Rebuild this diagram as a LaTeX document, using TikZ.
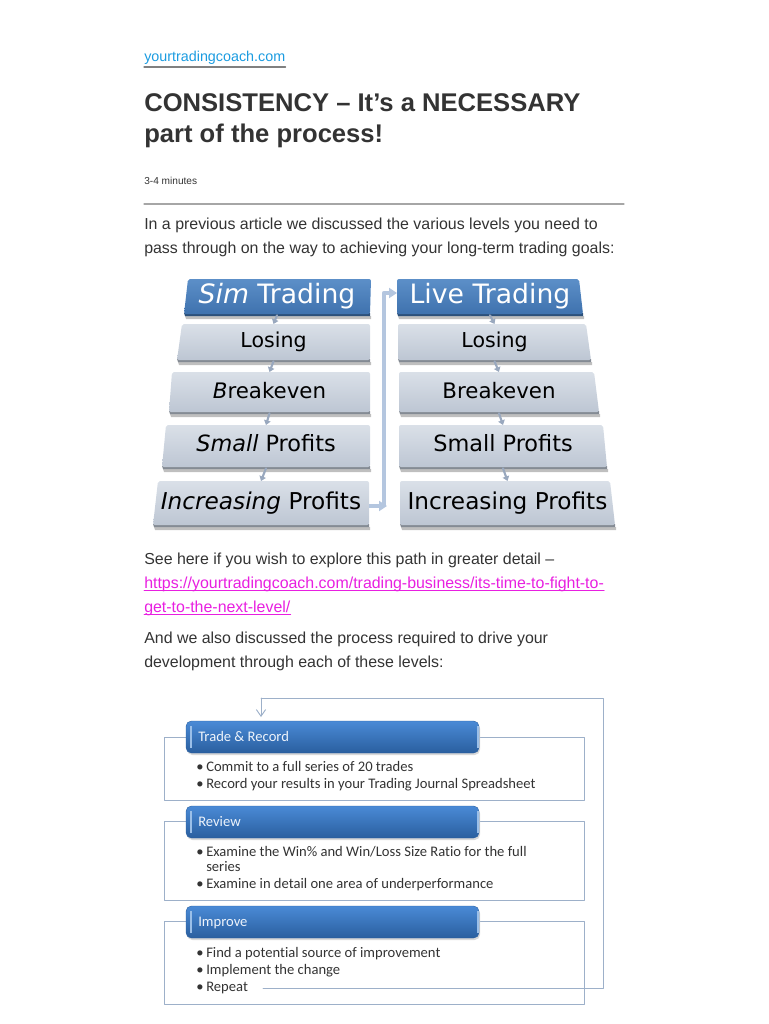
\documentclass[tikz,border=0pt]{standalone}
\usepackage{fontspec}
\setmainfont{Liberation Sans}
\newfontfamily\levelfont{DejaVu Sans}
\newfontfamily\stepfont[Ligatures=CommonOff]{Carlito}
\usetikzlibrary{arrows.meta}
\usetikzlibrary{positioning}
\definecolor{inkgray}{HTML}{333333}
\definecolor{sitelink}{HTML}{1A9BE0}
\definecolor{pagelink}{HTML}{E81FE0}
\definecolor{framegray}{HTML}{9DB0C9}
\definecolor{stepdark}{HTML}{2A5F9F}
\definecolor{stepmid}{HTML}{3C78C4}
\definecolor{steptop}{HTML}{4A8AD6}
\definecolor{simtop}{HTML}{5C8FC8}
\definecolor{simbot}{HTML}{3F72AE}
\definecolor{greytop}{HTML}{DAE0E8}
\definecolor{greybot}{HTML}{BDC6D3}
\definecolor{elbowblue}{HTML}{B4C6DF}
\tikzset{
 bodytext/.style={anchor=base west,inner sep=0pt,text=inkgray,font=\fontsize{11.95}{15}\selectfont},
 levellabel/.style={inner sep=0pt,outer sep=0pt,font=\levelfont\fontsize{#1}{20}\selectfont},
 levelarrow/.style={-{Triangle[length=3.5pt,width=5pt]},color=elbowblue!85!black,line width=1.6pt},
 elbowline/.style={color=elbowblue,line width=3.4pt,line cap=butt},
 stephead/.style={rounded corners=4pt,minimum width=219.75pt,minimum height=24pt,inner sep=0pt,outer sep=0pt,
  top color=steptop,middle color=stepmid,bottom color=stepdark,draw=stepdark,line width=0.3pt},
 stepframe/.style={draw=framegray,line width=0.7pt},
 steptext/.style={anchor=base west,inner sep=0pt,text=black!80,font=\stepfont\fontsize{10.95}{12}\selectfont},
}
\begin{document}
\begin{tikzpicture}[line cap=round,line join=round,x=0.75pt,y=-0.75pt]
\useasboundingbox (0,0) rectangle (768,1024);
\node[bodytext,text=sitelink,font=\fontsize{10.75}{13}\selectfont] (site) at (144,62) {yourtradingcoach.com};
\draw[color=gray,line width=0.9pt] ([yshift=-1.3pt]site.south west) -- ([yshift=-1.3pt]site.south east);
\node[bodytext,font=\bfseries\fontsize{19.2}{22}\selectfont] (title1) at (144,112) {CONSISTENCY – It’s a NECESSARY};
\node[bodytext,font=\bfseries\fontsize{19.2}{22}\selectfont] (title2) at (144,142.3) {part of the process!};
\node[bodytext,font=\fontsize{7.6}{9}\selectfont] (mins) at (144,184) {3-4 minutes};
\draw[color=black!35,line width=0.8pt] (144,204) -- (624,204);
\node[bodytext] (para1) at (144,229) {In a previous article we discussed the various levels you need to};
\node[bodytext] (para2) at (144,253) {pass through on the way to achieving your long-term trading goals:};
\node[bodytext] (para3) at (144,564) {See here if you wish to explore this path in greater detail –};
\node[bodytext,text=pagelink] (url1) at (144,588) {https://yourtradingcoach.com/trading-business/its-time-to-fight-to-};
\node[bodytext,text=pagelink] (url2) at (144,612) {get-to-the-next-level/};
\draw[color=pagelink,line width=0.7pt] ([yshift=-1.5pt]url1.base west) -- ([yshift=-1.5pt]url1.base east);
\draw[color=pagelink,line width=0.7pt] ([yshift=-1.5pt]url2.base west) -- ([yshift=-1.5pt]url2.base east);
\node[bodytext] (para4) at (144,643) {And we also discussed the process required to drive your};
\node[bodytext] (para5) at (144,667) {development through each of these levels:};
% level boxes
\foreach \nm/\tlx/\blx/\trx/\brx/\ty/\by/\tcol/\bcol/\tint/\fsz/\lift/\txt in {
 sim/188/184/371/370/279/314/simtop/simbot/white/20/0/{\itshape Sim\upshape{} Trading},
 sima/182/177/370/370/324/360/greytop/greybot/black/15.4/0/{Losing},
 simb/172/169/370/370/372/412/greytop/greybot/black/16/2/{\itshape B\upshape reakeven},
 simc/166/162/370/370/425/467/greytop/greybot/black/16.8/4.5/{\itshape Small\upshape{} Profits},
 simd/158/153/369/369/481/525/greytop/greybot/black/17.4/0/{\itshape Increasing\upshape{} Profits},
 live/397/397/579/583/279/314/simtop/simbot/white/20/0/{Live Trading},
 livea/398/398/586/591/324/360/greytop/greybot/black/15.4/0/{Losing},
 liveb/399/399/594/599/372/412/greytop/greybot/black/16/2/{Breakeven},
 livec/399/399/603/607/425/467/greytop/greybot/black/16.8/4.5/{Small Profits},
 lived/400/400/610/615/481/525/greytop/greybot/black/17.4/0/{Increasing Profits}}
{
 \fill[black!25] (\blx+1,\by+2) -- (\brx+1,\by+2) -- (\brx+1,\by+5) -- (\blx+2,\by+5) -- cycle;
 \fill[color=\bcol!70!black] (\blx,\by-1) -- (\brx,\by-1) -- (\brx,\by+2) -- (\blx+1,\by+2) -- cycle;
 \shade[top color=\tcol,bottom color=\bcol,rounded corners=1.5pt] (\tlx,\ty) -- (\trx,\ty) -- (\brx,\by) -- (\blx,\by) -- cycle;
 \node[levellabel=\fsz,text=\tint,minimum width={(\brx-\blx)*0.75pt},minimum height={(\by-\ty)*0.75pt}] (\nm) at ({(\blx+\brx)/2},{(\ty+\by)/2}) {\raisebox{\lift pt}{\txt}};
}
\foreach \a/\b in {sim/sima,sima/simb,simb/simc,simc/simd,live/livea,livea/liveb,liveb/livec,livec/lived}
\draw[levelarrow] ([yshift=-1pt]\a.south) -- (\b.north);
\coordinate (elbow) at (384,506);
\coordinate (elbowtip) at (387,506);
\coordinate (elbowtop) at (384,293);
\draw[elbowline,-{Triangle[length=6pt,width=7.5pt]}] (elbowtip -| simd.east) -- (elbowtip);
\draw[elbowline,-{Triangle[length=6pt,width=7.5pt]}] (elbow) -- (elbowtop) -- (elbowtop -| live.west);
% process frames
\foreach \ty/\by in {737/800,821/900,921/1004}
\draw[stepframe] (164,\ty) rectangle (584,\by);
\foreach \nm/\ty/\txt in {trade/737/{Trade \& Record},review/822/{Review},improve/922/{Improve}}
{
 \fill[black!15,rounded corners=4pt] (187,\ty-14) rectangle (480,\ty+18);
 \node[stephead] (\nm) at (332.5,\ty) {};
 \fill[color=steptop!55!white] (190,\ty-11) rectangle (192,\ty+11);
 \fill[color=steptop!55!white] (477,\ty-11) rectangle (479,\ty+11);
 \node[steptext,text=white!90!steptop] (\nm text) at (198,\ty+4) {\txt};
}
\foreach \nm/\ybase/\bul/\txt in {
 ca/771/1/{Commit to a full series of 20 trades},
 cb/788/1/{Record your results in your Trading Journal Spreadsheet},
 ra/856/1/{Examine the Win\% and Win/Loss Size Ratio for the full},
 rb/871/0/{series},
 rc/888/1/{Examine in detail one area of underperformance},
 ia/957/1/{Find a potential source of improvement},
 ib/974/1/{Implement the change},
 repeat/991/1/{Repeat}}
\node[steptext] (\nm) at (206,\ybase) {\ifnum\bul=1 \llap{\textbullet\hspace{2pt}}\fi\txt};
\coordinate (loopz) at (263,988);
\coordinate (loopa) at (603,988);
\coordinate (loopb) at (603,698);
\coordinate (loopc) at (261,698);
\coordinate (loopd) at (261,717);
\draw[color=framegray,line width=0.7pt] (loopz) -- (loopa) -- (loopb) -- (loopc);
\draw[-{Straight Barb[length=5pt,width=7pt]},color=framegray,line width=0.7pt] (loopc) -- (loopd);
\end{tikzpicture}
\end{document}
